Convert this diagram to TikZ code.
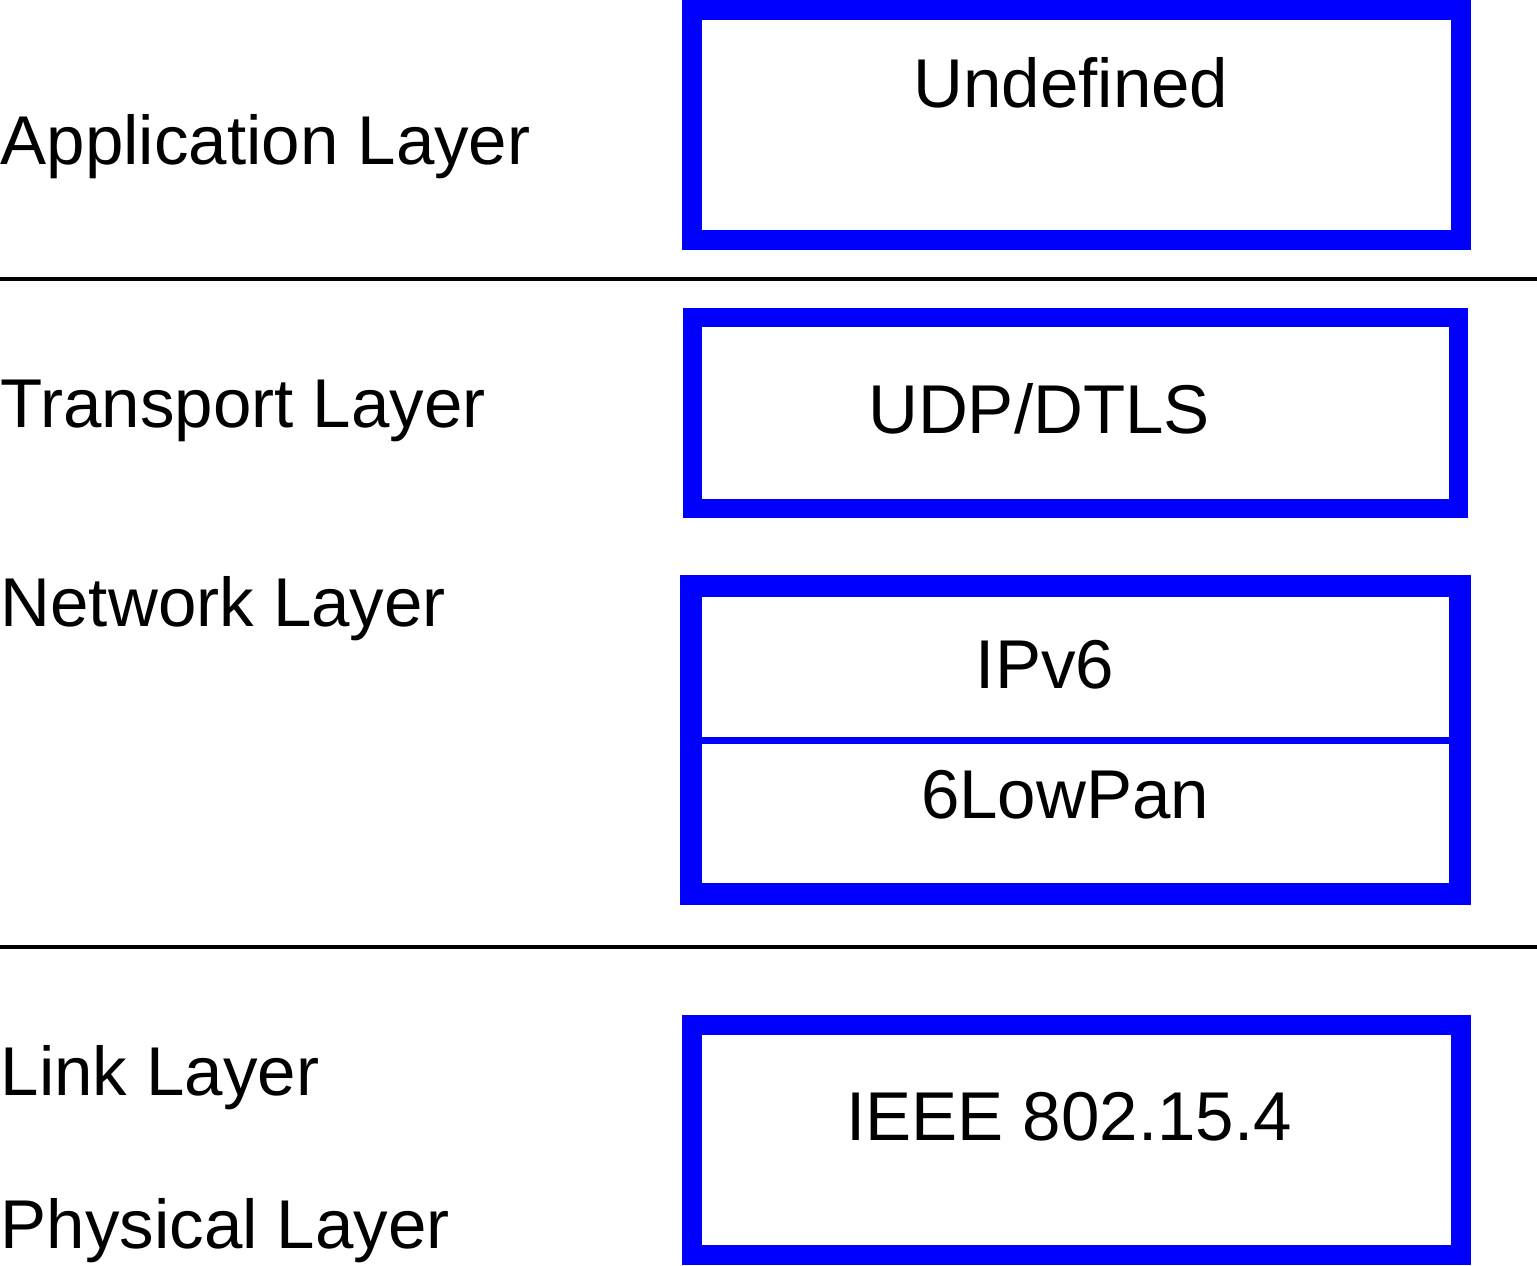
\documentclass[tikz,border=0pt]{standalone}
\usepackage{fontspec}
\setmainfont{Liberation Sans}
\usetikzlibrary{positioning}
\definecolor{stackblue}{HTML}{0000FF}

\begin{document}
\begin{tikzpicture}[
  every node/.style={font=\fontsize{19.65}{23}\selectfont, inner sep=0pt},
  layerbox/.style={rectangle, draw=stackblue, line width=0.2cm, minimum width=7.69cm, minimum height=#1},
  layerlabel/.style={anchor=base west},
  prototext/.style={anchor=base},
  divider/.style={black, line width=0.035cm},
]
\useasboundingbox (0,0) rectangle (15.37,-12.65);

% Left side: layer names
\node[layerlabel] (app) at (0, -1.65) {Application Layer};
\node[layerlabel] (trans) at (0, -4.27) {Transport Layer};
\node[layerlabel] (net) at (0, -6.26) {Network Layer};
\node[layerlabel] (link) at (0, -10.95) {Link Layer};
\node[layerlabel] (phys) at (0, -12.48) {Physical Layer};

% Separators
\coordinate (sepaw) at (0, -2.79);
\coordinate (sepae) at (15.37, -2.79);
\coordinate (sepbw) at (0, -9.47);
\coordinate (sepbe) at (15.37, -9.47);
\draw[divider] (sepaw) -- (sepae);
\draw[divider] (sepbw) -- (sepbe);

% Right side: protocol boxes
\node[layerbox=2.30cm] (appbox) at (10.76, -1.25) {};
\node[layerbox=1.91cm, line width=0.19cm, minimum width=7.66cm] (udpbox) at (10.755, -4.13) {};
\node[layerbox=3.08cm, line width=0.225cm] (netbox) at (10.755, -7.40) {};
\node[layerbox=2.30cm] (ieeebox) at (10.76, -11.40) {};

\draw[stackblue, line width=0.07cm] (netbox.west) -- (netbox.east);

\node[prototext] (undef) at (10.71, -1.08) {Undefined};
\node[prototext] (udp) at (10.39, -4.33) {UDP/DTLS};
\node[prototext] (ipv6) at (10.45, -6.88) {IPv6};
\node[prototext] (lowpan) at (10.65, -8.18) {6LowPan};
\node[prototext] (ieee) at (10.69, -11.40) {IEEE 802.15.4};

\end{tikzpicture}
\end{document}
